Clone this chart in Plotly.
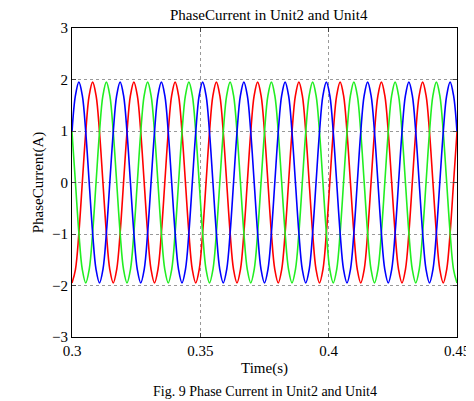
import plotly.graph_objects as go

# sampled currents (A), 12 samples per cycle, 0.3 s .. 0.45 s
n_pts = 113
t = [0.3 + 0.15 * i / (n_pts - 1) for i in range(n_pts)]

blue = [
    0.98, 1.69, 1.95, 1.69, 0.98, 0, -0.98, -1.69, -1.95, -1.69, -0.98, 0,
    0.98, 1.69, 1.95, 1.69, 0.98, 0, -0.98, -1.69, -1.95, -1.69, -0.98, 0,
    0.98, 1.69, 1.95, 1.69, 0.98, 0, -0.98, -1.69, -1.95, -1.69, -0.98, 0,
    0.98, 1.69, 1.95, 1.69, 0.98, 0, -0.98, -1.69, -1.95, -1.69, -0.98, 0,
    0.98, 1.69, 1.95, 1.69, 0.98, 0, -0.98, -1.69, -1.95, -1.69, -0.98, 0,
    0.98, 1.69, 1.95, 1.69, 0.98, 0, -0.98, -1.69, -1.95, -1.69, -0.98, 0,
    0.98, 1.69, 1.95, 1.69, 0.98, 0, -0.98, -1.69, -1.95, -1.69, -0.98, 0,
    0.98, 1.69, 1.95, 1.69, 0.98, 0, -0.98, -1.69, -1.95, -1.69, -0.98, 0,
    0.98, 1.69, 1.95, 1.69, 0.98, 0, -0.98, -1.69, -1.95, -1.69, -0.98, 0,
    0.98, 1.69, 1.95, 1.69, 0.98,
]
green = [
    0.98, 0, -0.98, -1.69, -1.95, -1.69, -0.98, 0, 0.98, 1.69, 1.95, 1.69,
    0.98, 0, -0.98, -1.69, -1.95, -1.69, -0.98, 0, 0.98, 1.69, 1.95, 1.69,
    0.98, 0, -0.98, -1.69, -1.95, -1.69, -0.98, 0, 0.98, 1.69, 1.95, 1.69,
    0.98, 0, -0.98, -1.69, -1.95, -1.69, -0.98, 0, 0.98, 1.69, 1.95, 1.69,
    0.98, 0, -0.98, -1.69, -1.95, -1.69, -0.98, 0, 0.98, 1.69, 1.95, 1.69,
    0.98, 0, -0.98, -1.69, -1.95, -1.69, -0.98, 0, 0.98, 1.69, 1.95, 1.69,
    0.98, 0, -0.98, -1.69, -1.95, -1.69, -0.98, 0, 0.98, 1.69, 1.95, 1.69,
    0.98, 0, -0.98, -1.69, -1.95, -1.69, -0.98, 0, 0.98, 1.69, 1.95, 1.69,
    0.98, 0, -0.98, -1.69, -1.95, -1.69, -0.98, 0, 0.98, 1.69, 1.95, 1.69,
    0.98, 0, -0.98, -1.69, -1.95,
]
red = [
    -1.95, -1.69, -0.98, 0, 0.98, 1.69, 1.95, 1.69, 0.98, 0, -0.98, -1.69,
    -1.95, -1.69, -0.98, 0, 0.98, 1.69, 1.95, 1.69, 0.98, 0, -0.98, -1.69,
    -1.95, -1.69, -0.98, 0, 0.98, 1.69, 1.95, 1.69, 0.98, 0, -0.98, -1.69,
    -1.95, -1.69, -0.98, 0, 0.98, 1.69, 1.95, 1.69, 0.98, 0, -0.98, -1.69,
    -1.95, -1.69, -0.98, 0, 0.98, 1.69, 1.95, 1.69, 0.98, 0, -0.98, -1.69,
    -1.95, -1.69, -0.98, 0, 0.98, 1.69, 1.95, 1.69, 0.98, 0, -0.98, -1.69,
    -1.95, -1.69, -0.98, 0, 0.98, 1.69, 1.95, 1.69, 0.98, 0, -0.98, -1.69,
    -1.95, -1.69, -0.98, 0, 0.98, 1.69, 1.95, 1.69, 0.98, 0, -0.98, -1.69,
    -1.95, -1.69, -0.98, 0, 0.98, 1.69, 1.95, 1.69, 0.98, 0, -0.98, -1.69,
    -1.95, -1.69, -0.98, 0, 0.98,
]

x_ticks = [0.3, 0.35, 0.4, 0.45]
x_labels = ["0.3", "0.35", "0.4", "0.45"]
y_ticks = [-3, -2, -1, 0, 1, 2, 3]

font = "Liberation Serif, Times New Roman, serif"

fig = go.Figure()
for ys, col in [(red, "#ff0000"), (green, "#22ee22"), (blue, "#0000ff")]:
    fig.add_trace(go.Scatter(x=t, y=ys, mode="lines",
                             line=dict(color=col, width=1.6, shape="spline"),
                             showlegend=False))

fig.update_layout(
    width=474, height=401,
    margin=dict(l=64, r=16, t=18, b=72),
    paper_bgcolor="white", plot_bgcolor="white",
    font=dict(family=font, size=15, color="black"),
    title=dict(text="PhaseCurrent in Unit2 and Unit4", x=0.55, xanchor="center",
               y=0.996, yanchor="top", font=dict(size=15)),
    annotations=[dict(text="Fig. 9 Phase Current in Unit2 and Unit4", xref="paper",
                      yref="paper", x=0.5, y=-0.175, yanchor="middle", showarrow=False,
                      font=dict(family=font, size=14, color="black"))],
)
fig.update_xaxes(range=[0.3, 0.45], tickvals=x_ticks, ticktext=x_labels,
                 title=dict(text="Time(s)", standoff=4, font=dict(size=15)),
                 showline=True, linecolor="black", mirror="ticks", ticks="inside",
                 ticklen=4, showgrid=True, gridcolor="#999999", griddash="dot",
                 zeroline=False)
fig.update_yaxes(range=[-3, 3], tickvals=y_ticks,
                 title=dict(text="PhaseCurrent(A)", standoff=4, font=dict(size=15)),
                 showline=True, linecolor="black", mirror="ticks", ticks="inside",
                 ticklen=4, showgrid=True, gridcolor="#999999", griddash="dot",
                 zeroline=False)

fig.write_html("out.html")
